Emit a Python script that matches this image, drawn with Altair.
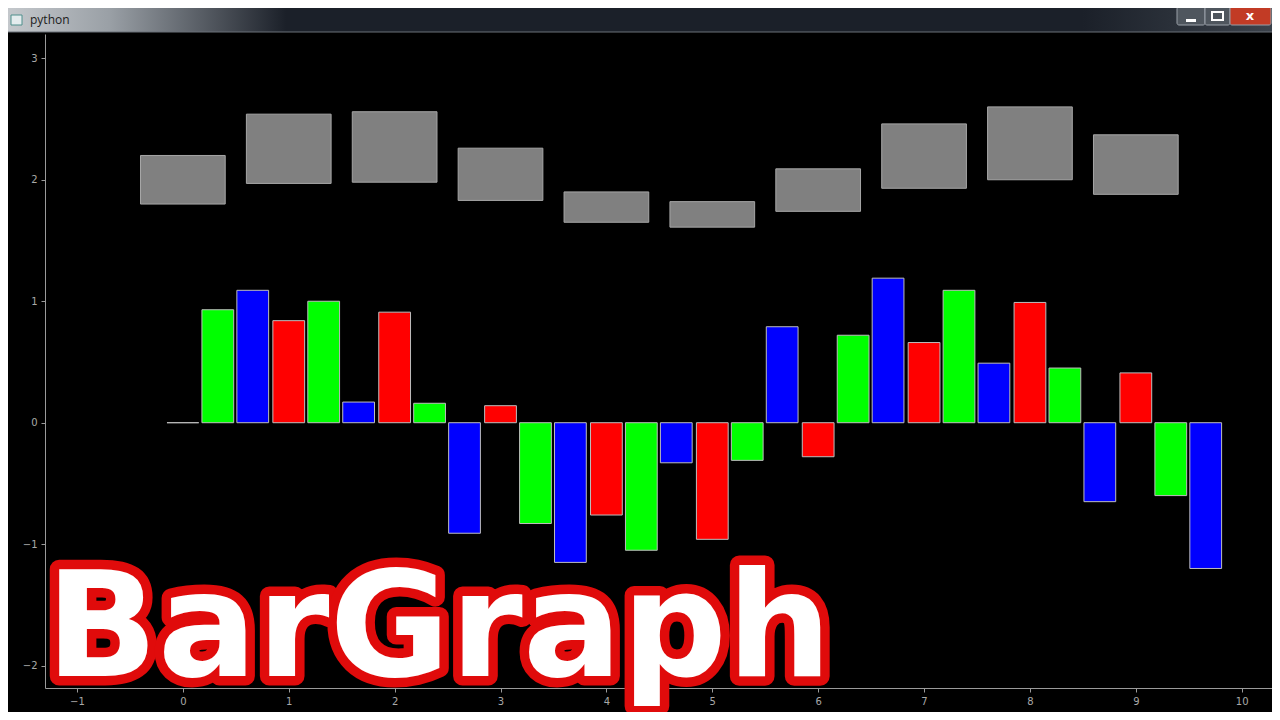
import altair as alt
import pandas as pd

# ---- values ----
x_pos = [0, 1, 2, 3, 4, 5, 6, 7, 8, 9]
red_h = [0.00, 0.84, 0.91, 0.14, -0.76, -0.96, -0.28, 0.66, 0.99, 0.41]
green_h = [0.93, 1.00, 0.16, -0.83, -1.05, -0.31, 0.72, 1.09, 0.45, -0.60]
blue_h = [1.09, 0.17, -0.91, -1.15, -0.33, 0.79, 1.19, 0.49, -0.65, -1.20]
gray_bottom = [1.80, 1.97, 1.98, 1.83, 1.65, 1.61, 1.74, 1.93, 2.00, 1.88]
gray_top = [2.20, 2.54, 2.56, 2.26, 1.90, 1.82, 2.09, 2.46, 2.60, 2.37]
x_ticks = [-1, 0, 1, 2, 3, 4, 5, 6, 7, 8, 9, 10]
y_ticks = [-2, -1, 0, 1, 2, 3]
overlay_text = "BarGraph"
window_title = "python"

# ---- layout / style constants ----
series = [("#ff0000", 0.0, red_h), ("#00ff00", 0.33, green_h), ("#0000ff", 0.66, blue_h)]
BAR_W = 0.3
GRAY_W = 0.8
W, H = 1227, 654

rows = []
for col, off, hs in series:
    for xv, h in zip(x_pos, hs):
        rows.append({"x0": xv + off - BAR_W / 2, "x1": xv + off + BAR_W / 2,
                     "y0": 0.0, "y1": h, "c": col})
bars = pd.DataFrame(rows)
gray = pd.DataFrame({"x0": [v - GRAY_W / 2 for v in x_pos],
                     "x1": [v + GRAY_W / 2 for v in x_pos],
                     "y0": gray_bottom, "y1": gray_top})
txt = pd.DataFrame({"x0": [-1.295], "y0": [-2.085], "t": [overlay_text]})

xs = alt.Scale(domain=[-1.302, 10.286], nice=False, zero=False)
ys = alt.Scale(domain=[-2.184, 3.20], nice=False, zero=False)
XA = alt.Axis(values=x_ticks, title=None, grid=False, format="d")
YA = alt.Axis(values=y_ticks, title=None, grid=False, format="d")

gray_layer = alt.Chart(gray).mark_rect(fill="#808080", stroke="#a6a6a6", strokeWidth=1).encode(
    x=alt.X("x0:Q", scale=xs, axis=XA), x2="x1:Q",
    y=alt.Y("y0:Q", scale=ys, axis=YA), y2="y1:Q")

bar_layer = alt.Chart(bars).mark_rect(stroke="#bdbdbd", strokeWidth=1).encode(
    x=alt.X("x0:Q", scale=xs, axis=XA), x2="x1:Q",
    y=alt.Y("y0:Q", scale=ys, axis=YA), y2="y1:Q",
    fill=alt.Fill("c:N", scale=None))

txt_base = dict(font="DejaVu Sans", fontWeight="bold", fontSize=147,
                align="left", baseline="alphabetic")
txt_red = alt.Chart(txt).mark_text(fill="#e00b0b", stroke="#e00b0b", strokeWidth=19,
                                   strokeJoin="round", **txt_base).encode(
    x=alt.X("x0:Q", scale=xs, axis=XA), y=alt.Y("y0:Q", scale=ys, axis=YA), text="t:N")
txt_white = alt.Chart(txt).mark_text(fill="#ffffff", **txt_base).encode(
    x=alt.X("x0:Q", scale=xs, axis=XA), y=alt.Y("y0:Q", scale=ys, axis=YA), text="t:N")

# ---- window chrome (decoration) ----
one = pd.DataFrame({"t": [window_title]})
bar_grad = alt.LinearGradient(
    gradient="linear", x1=0, x2=1, y1=0, y2=0,
    stops=[alt.GradientStop(offset=0.0, color="#c4c8cc"),
           alt.GradientStop(offset=0.08, color="#9aa0a6"),
           alt.GradientStop(offset=0.22, color="#1b2029"),
           alt.GradientStop(offset=0.85, color="#1b2029"),
           alt.GradientStop(offset=1.0, color="#3b424b")])
title_bar = alt.Chart(one).mark_rect(fill=bar_grad).encode(
    x=alt.value(-37), x2=alt.value(W), y=alt.value(-26), y2=alt.value(-2))
title_line = alt.Chart(one).mark_rule(color="#6a7078", strokeWidth=1).encode(
    x=alt.value(-37), x2=alt.value(W), y=alt.value(-2))
icon = alt.Chart(one).mark_rect(fill="#e4ecee", stroke="#4f8f8c", strokeWidth=1).encode(
    x=alt.value(-34), x2=alt.value(-23), y=alt.value(-19), y2=alt.value(-9))
title_txt = alt.Chart(one).mark_text(font="Open Sans", fontSize=12, color="#1c1c1c",
                                     align="left", baseline="middle").encode(
    x=alt.value(-15), y=alt.value(-14), text="t:N")
btn_min = alt.Chart(one).mark_rect(fill="#4f565e", stroke="#9aa0a8", cornerRadius=2).encode(
    x=alt.value(1132), x2=alt.value(1160), y=alt.value(-27), y2=alt.value(-9))
btn_max = alt.Chart(one).mark_rect(fill="#4f565e", stroke="#9aa0a8", cornerRadius=2).encode(
    x=alt.value(1160), x2=alt.value(1185), y=alt.value(-27), y2=alt.value(-9))
btn_close = alt.Chart(one).mark_rect(fill="#c23b25", stroke="#9aa0a8", cornerRadius=2).encode(
    x=alt.value(1185), x2=alt.value(1226), y=alt.value(-27), y2=alt.value(-9))
glyph_min = alt.Chart(one).mark_rect(fill="#ffffff").encode(
    x=alt.value(1141), x2=alt.value(1151), y=alt.value(-15), y2=alt.value(-12))
glyph_max = alt.Chart(one).mark_rect(fill="none", stroke="#ffffff", strokeWidth=2).encode(
    x=alt.value(1167), x2=alt.value(1178), y=alt.value(-22), y2=alt.value(-14))
glyph_close = alt.Chart(pd.DataFrame({"t": ["x"]})).mark_text(
    font="DejaVu Sans", fontWeight="bold", fontSize=13, color="#ffffff",
    align="center", baseline="middle").encode(
    x=alt.value(1205), y=alt.value(-18), text="t:N")

chart = alt.layer(
    gray_layer, bar_layer, txt_red, txt_white,
    title_bar, title_line, icon, title_txt,
    btn_min, btn_max, btn_close, glyph_min, glyph_max, glyph_close,
).properties(
    width=W, height=H,
    autosize=alt.AutoSizeParams(type="none"),
    padding={"left": 37, "top": 26, "right": 0, "bottom": 24},
    background="#000000",
).configure_view(
    stroke=None, fill="#000000"
).configure_axis(
    domainColor="#9a9a9a", tickColor="#9a9a9a", labelColor="#a8a8a8",
    labelFont="DejaVu Sans", labelFontSize=10, tickSize=4, labelPadding=4,
    domainWidth=1, tickWidth=1,
)

chart.save("out.html", embed_options={"renderer": "svg", "actions": False})
